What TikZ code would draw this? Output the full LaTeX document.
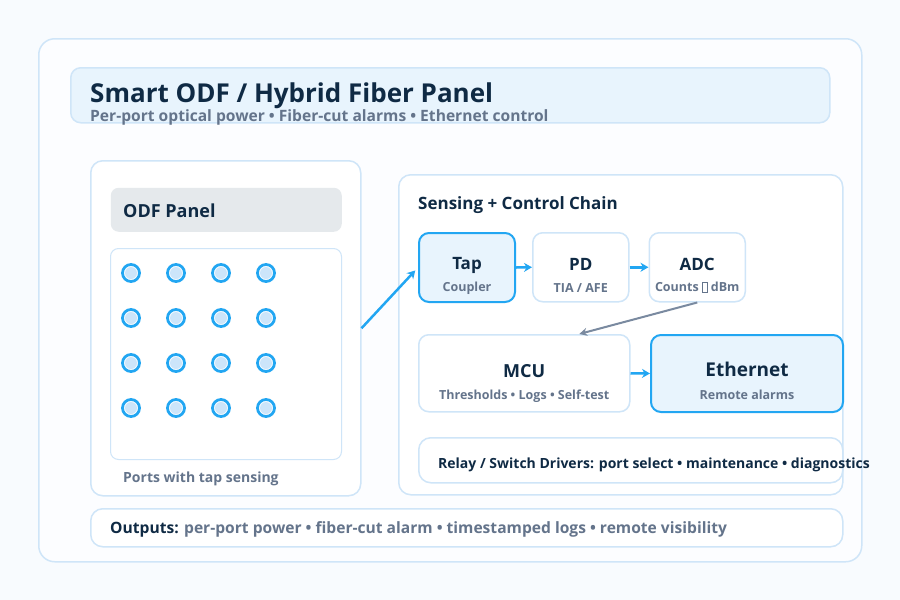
\documentclass[tikz,border=0pt]{standalone}
\usepackage{fontspec}
\setmainfont{Open Sans}
\usepackage{tikz}
\usetikzlibrary{arrows.meta, positioning}
\usepackage{xcolor}
\definecolor{ink}{HTML}{0F2A44}
\definecolor{slate}{HTML}{64748B}
\definecolor{edge}{HTML}{CFE5F8}
\definecolor{accent}{HTML}{22A6F2}
\definecolor{paleblue}{HTML}{E8F4FD}
\definecolor{page}{HTML}{F8FBFE}
\definecolor{headgray}{HTML}{E5E9EC}
\definecolor{portfill}{HTML}{CCE5FA}
\definecolor{linkgray}{HTML}{7A8AA0}
\newcommand{\fsz}[1]{\fontsize{#1}{#1}\selectfont}
\newcommand{\lift}[1]{\rule{0pt}{#1}}
\newcommand{\tofu}{{\setlength\fboxsep{0pt}\setlength\fboxrule{0.6pt}\framebox[0.45em][c]{\rule{0pt}{0.72em}}}}
\tikzstyle{card}  = [rectangle, rounded corners=12pt, draw=edge, line width=1.5pt, fill=white, anchor=north west, inner sep=0pt]
\tikzstyle{block} = [rectangle, rounded corners=10pt, draw=edge, line width=1.5pt, fill=white, anchor=north west, minimum width=96pt, minimum height=69pt, align=center, text=ink, font=\bfseries\fsz{17}]
\tikzstyle{hot}   = [draw=accent, fill=paleblue]
\tikzstyle{port}  = [circle, draw=accent, line width=2.8pt, fill=white, minimum size=17pt, inner sep=0pt,
                     path picture={\fill[portfill] (path picture bounding box.center) circle (6pt);}]
\tikzstyle{arrow} = [line width=2.5pt, draw=accent, -{Stealth[length=8pt, width=9pt]}]
\tikzstyle{link}  = [line width=2pt, draw=linkgray, -{Stealth[length=8pt, width=8pt]}]

\begin{document}
\begin{tikzpicture}[x=1pt, y=-1pt, every node/.style={inner sep=0pt}]
  \fill[page] (0,0) rectangle (900,600);

  % Frame and heading
  \node[card, rounded corners=16pt, fill=page!40!white, minimum width=823pt, minimum height=523pt] (frame) at (38,38) {};
  \node[card, rounded corners=10pt, fill=paleblue, minimum width=759pt, minimum height=55pt] (band) at (70,67) {};
  \node[anchor=base west, text=ink, font=\bfseries\fsz{26}] (title) at (90,102) {Smart ODF / Hybrid Fiber Panel};
  \node[anchor=base west, text=slate, font=\bfseries\fsz{15.6}] (subtitle) at (90,121) {Per-port optical power • Fiber-cut alarms • Ethernet control};

  % ODF panel
  \node[card, minimum width=270pt, minimum height=335pt] (odf) at (90,160) {};
  \node[card, rounded corners=8pt, draw=none, fill=headgray, minimum width=231pt, minimum height=44pt] (odfhead) at (110,187) {};
  \node[anchor=west, text=ink, font=\bfseries\fsz{18}] (odftitle) at (123,211) {ODF Panel};
  \node[card, rounded corners=8pt, line width=1pt, minimum width=231pt, minimum height=211pt] (ports) at (110,248) {};
  \foreach \r in {0,...,3}
    \foreach \c in {0,...,3}
      \node[port] (p\r\c) at (131+45*\c, 273+45*\r) {};
  \node[anchor=base west, text=slate, font=\bfseries\fsz{14}] (portnote) at (123,482) {Ports with tap sensing};

  % Sensing chain
  \node[card, minimum width=444pt, minimum height=320pt] (chain) at (398,174) {};
  \node[anchor=base west, text=ink, font=\bfseries\fsz{17}] (chaintitle) at (418,209) {Sensing + Control Chain};
  \node[block, hot, line width=2pt] (tap) at (418,232) {\lift{28.5pt}Tap\\[4.5pt]{\color{slate}\fsz{12.5}Coupler}};
  \node[block, right=16pt of tap.north east, anchor=north west] (pd) {\lift{28.5pt}PD\\[4.5pt]{\color{slate}\fsz{12.5}TIA / AFE}};
  \node[block, right=19pt of pd.north east, anchor=north west] (adc) {\lift{28.5pt}ADC\\[4.5pt]{\color{slate}\fsz{12.5}Counts \tofu{} dBm}};
  \node[block, minimum width=211pt, minimum height=77pt, font=\bfseries\fsz{18}] (mcu) at (418,334) {\lift{33pt}MCU\\[4pt]{\color{slate}\fsz{12.5}Thresholds • Logs • Self-test}};
  \node[block, hot, line width=2pt, minimum width=192pt, minimum height=77pt, font=\bfseries\fsz{19}] (eth) at (650,334) {\lift{29.3pt}Ethernet\\[4pt]{\color{slate}\fsz{12.5}Remote alarms}};
  \node[card, minimum width=424pt, minimum height=45pt] (relay) at (418,437) {};
  \node[anchor=base west, text=ink, font=\bfseries\fsz{14}] (relaytext) at (438,468) {Relay / Switch Drivers: port select • maintenance • diagnostics};

  % Outputs
  \node[card, minimum width=752pt, minimum height=38pt] (outputs) at (90,508) {};
  \node[anchor=base west, font=\bfseries\fsz{15.6}] (outtext) at (110,533) {\color{ink}Outputs: \color{slate}per-port power • fiber-cut alarm • timestamped logs • remote visibility};

  % Flows
  \draw[arrow, shorten >=4pt] (odf.east) -- (tap.west);
  \draw[arrow] (tap.east) -- (pd.west);
  \draw[arrow] (pd.east) -- (adc.west);
  \draw[link] (adc.south) -- ([xshift=55pt]mcu.north);
  \draw[arrow] (mcu.east) -- (eth.west);
\end{tikzpicture}
\end{document}
